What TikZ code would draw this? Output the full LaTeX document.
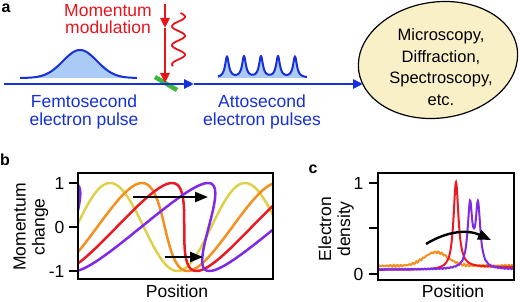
\documentclass[tikz,border=0pt]{standalone}
\usepackage{fontspec}
\setmainfont{Liberation Sans}
\usepackage{xcolor}
\definecolor{beamblue}{HTML}{1530D8}
\definecolor{pulsefill}{HTML}{A9CBF5}
\definecolor{laserred}{HTML}{E8141C}
\definecolor{tiltgreen}{HTML}{3CB93C}
\definecolor{appfill}{HTML}{FAF0C8}
\definecolor{cyel}{HTML}{DCD24A}
\definecolor{cora}{HTML}{F59020}
\definecolor{cred}{HTML}{EA1A22}
\definecolor{cpur}{HTML}{7F2AE6}
\usepackage{tikz}
\usetikzlibrary{arrows.meta, shapes.geometric, positioning, calc}

\begin{document}
\begin{tikzpicture}[x=1pt, y=-1pt, >={Triangle[length=10pt,width=9pt]},
    font={\fontsize{17.5}{17.5}\selectfont},
    beamline/.style={beamblue, line width=2.5pt},
    laserline/.style={laserred, line width=2.5pt},
    frame/.style={black, line width=2pt},
    curve/.style={line width=2.5pt},
    trace/.style={line width=2pt},
    shiftarrow/.style={black, line width=2.4pt, -{Triangle[length=13pt,width=10pt]}},
    panel/.style={font={\fontsize{16}{16}\selectfont\bfseries}},
    declare function={lor(\x,\c,\g)=1/(1+((\x-\c)/\g)^2);}]
  \useasboundingbox (0,0) rectangle (520,302);

  % a: modulation scheme
  \node[panel] (la) at (6,8) {a};

  \fill[pulsefill] (20,78) -- plot[domain=20:137, samples=80] (\x, {78-28*exp(-(\x-80)^2/578)}) -- cycle;
  \draw[beamblue, line width=2pt] plot[domain=20:137, samples=80] (\x, {78-28*exp(-(\x-80)^2/578)});

  \fill[pulsefill] (218,78) -- plot[domain=218:307, samples=400]
    (\x, {78-21*(lor(\x,227,2.3)+lor(\x,244,2.3)+lor(\x,261,2.3)+lor(\x,278,2.3)+lor(\x,295,2.3))}) -- (307,78) -- cycle;
  \draw[beamblue, line width=2pt] plot[domain=218:307, samples=400]
    (\x, {78-21*(lor(\x,227,2.3)+lor(\x,244,2.3)+lor(\x,261,2.3)+lor(\x,278,2.3)+lor(\x,295,2.3))});

  \draw[tiltgreen, line width=4.5pt] (155,77) -- (177,90);

  \node[ellipse, draw=black, line width=1.2pt, fill=appfill, rotate=8,
        minimum width=160pt, minimum height=116pt, inner sep=0pt] (apps) at (438,60) {};
  \node[align=center, font={\fontsize{16.5}{21.5}\selectfont}] (appstext) at (441,67)
        {Microscopy,\\Diffraction,\\Spectroscopy,\\etc.};

  \coordinate (beamstart) at (4,84);
  \coordinate (beammid) at (194,84);
  \coordinate (appsW) at (363,84);
  \draw[beamline, ->] (beamstart) -- (beammid);
  \draw[beamline, ->] (beammid) -- (appsW);

  \coordinate (laser0) at (165,4);
  \coordinate (laser1) at (165,28);
  \coordinate (laser2) at (165,83);
  \draw[laserline, ->] (laser0) -- (laser1);
  \draw[laserline, ->] (laser1) -- (laser2);
  \draw[laserred, line width=1.8pt] plot[domain=13:66, samples=90] ({178.5+6.5*sin(18.947*(\x-12))}, \x);

  \node[laserred, align=center] (modtext) at (108,19) {Momentum\\modulation};
  \node[beamblue, align=center] (femtotext) at (84,112) {Femtosecond\\electron pulse};
  \node[beamblue, align=center] (attotext) at (262,112) {Attosecond\\electron pulses};

  % b: momentum change
  \node[panel] (lb) at (5,160) {b};
  \begin{scope}
    \clip (78,173) rectangle (273,279);
    \foreach \a/\b/\col in {0/0/cyel, 21/11/cora, 40.5/21.5/cred, 65/33/cpur}
      \draw[\col, curve] plot[domain=-6:9.5, samples=300, variable=\t]
        ({110+21.486*\t+\a+\b*cos(\t r)}, {227-44*cos(\t r)});
  \end{scope}
  \draw[frame] (78,173) rectangle (273,279);
  \foreach \v/\lab [count=\i] in {1/1, 0/0, -1/-1} {
    \draw[frame] (69,{227-44*\v}) -- (78,{227-44*\v});
    \node[anchor=east] (tickb\i) at (68,{227-44*\v}) {\lab};
  }
  \node[rotate=90, align=center, font={\fontsize{17.5}{19}\selectfont}] (ylabb) at (31,227) {Momentum\\change};
  \node[anchor=base] (xlabb) at (177,298) {Position};

  \coordinate (fastA) at (133,197);
  \coordinate (fastB) at (208,197);
  \coordinate (slowA) at (165,257);
  \coordinate (slowB) at (203,257);
  \draw[shiftarrow] (fastA) -- (fastB);
  \draw[shiftarrow] (slowA) -- (slowB);

  % c: electron density
  \node[panel] (lc) at (313,169) {c};
  \draw[cora, trace] plot[domain=378:514, samples=200]
    (\x, {274-91*(0.09+0.15*exp(-(\x-436)^2/288)+0.006*sin((\x-378)*97)+0.005*cos((\x-378)*113))});
  \draw[cred, trace] plot[domain=378:514, samples=400]
    (\x, {274-91*(0.045+0.95*lor(\x,456,3)+0.03*min(1,max(0,(\x-450)/12)))});
  \draw[cpur, trace] plot[domain=378:514, samples=400]
    (\x, {274-91*(0.05+0.68*(lor(\x,470,2.8)+lor(\x,478,2.8))+0.004*sin((\x-378)*110))});
  \draw[frame] (378,173) rectangle (514,280);
  \foreach \v/\lab [count=\i] in {1/1, 0.5/{}, 0/0} {
    \draw[frame] (369,{274-91*\v}) -- (378,{274-91*\v});
    \node[anchor=east] (tickc\i) at (367,{274-91*\v}) {\lab};
  }
  \node[rotate=90, align=center, font={\fontsize{17.5}{19}\selectfont}] (ylabc) at (336,229) {Electron\\density};
  \node[anchor=base] (xlabc) at (453,298) {Position};

  \coordinate (driftA) at (426,244);
  \coordinate (driftB) at (491,240);
  \draw[shiftarrow] (driftA) to[bend left=28] (driftB);
\end{tikzpicture}
\end{document}
